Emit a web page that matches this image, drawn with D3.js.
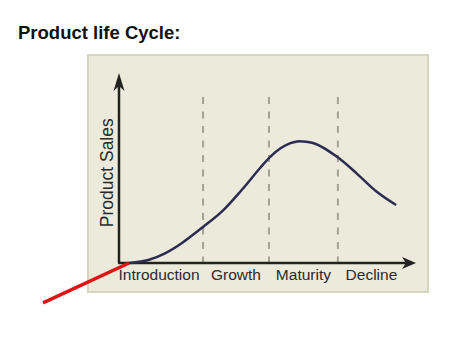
<!DOCTYPE html>
<html>
<head>
<meta charset="utf-8">
<script src="https://cdn.jsdelivr.net/npm/d3@7"></script>
<style>
  body { margin: 0; background: #fff; }
  text { font-family: "Liberation Sans", Arial, sans-serif; }
</style>
</head>
<body>
<div class="container"></div>
<script>
var WIDTH = 474, HEIGHT = 355;

// stages of the cycle and where each one ends (time units)
var stages = ["Introduction", "Growth", "Maturity", "Decline"];
var stageBounds = [0, 28.3, 50.5, 73.7, 96.3];

// sales curve
var timeValues  = [3.7, 9.9, 15.5, 21.1, 28.4, 34.6, 41.3, 47.5, 51, 54.5, 57.5, 60, 63, 66.5, 73.3, 80, 86.8, 93.3];
var salesValues = [0, 1.6, 5.1, 10.4, 19.1, 27, 38.4, 50, 56, 60.5, 63, 64, 63.8, 62.5, 56, 47.2, 37.5, 30.5];

// red pointer drawn over the chart
var pointerX = [-25.6, 3.4];
var pointerY = [-21, 0];

var curve = timeValues.map(function(t, i){ return {t: t, v: salesValues[i]}; });

var svg = d3.select('.container').append('svg')
            .attr('width', WIDTH)
            .attr('height', HEIGHT);

svg.append('text')
   .attr('x', 18).attr('y', 39)
   .style('font-size', '18.5px')
   .style('font-weight', 'bold')
   .attr('fill', '#111')
   .text('Product life Cycle:');

// panel
svg.append('rect')
   .attr('x', 88).attr('y', 55)
   .attr('width', 340).attr('height', 237)
   .attr('fill', '#ebeadb')
   .attr('stroke', '#d6d5c2')
   .attr('stroke-width', 2);

var xScale = d3.scaleLinear().domain([0, 100]).range([119, 416]);
var yScale = d3.scaleLinear().domain([0, 100]).range([263, 73]);

// stage dividers
svg.selectAll('line.divider').data(stageBounds.slice(1, 4))
   .enter().append('line')
     .classed('divider', true)
     .attr('x1', function(d){ return xScale(d); })
     .attr('x2', function(d){ return xScale(d); })
     .attr('y1', yScale(87.4))
     .attr('y2', yScale(0))
     .attr('stroke', '#a3a394')
     .attr('stroke-width', 2)
     .attr('stroke-dasharray', '7,7.5');

// axes with arrow heads
var axisColor = '#222';
svg.append('line')
   .attr('x1', xScale(0)).attr('y1', yScale(0))
   .attr('x2', xScale(0)).attr('y2', yScale(100) + 12)
   .attr('stroke', axisColor).attr('stroke-width', 2.5);
svg.append('line')
   .attr('x1', xScale(0) - 1).attr('y1', yScale(0))
   .attr('x2', xScale(100) - 10).attr('y2', yScale(0))
   .attr('stroke', axisColor).attr('stroke-width', 2.5);

var yt = [xScale(0), yScale(100)];
svg.append('path')
   .attr('d', 'M' + yt[0] + ',' + yt[1] + 'L' + (yt[0] + 5.5) + ',' + (yt[1] + 18) +
              'L' + yt[0] + ',' + (yt[1] + 13) + 'L' + (yt[0] - 5.5) + ',' + (yt[1] + 18) + 'Z')
   .attr('fill', axisColor);
var xt = [xScale(100), yScale(0)];
svg.append('path')
   .attr('d', 'M' + xt[0] + ',' + xt[1] + 'L' + (xt[0] - 14) + ',' + (xt[1] - 6) +
              'L' + (xt[0] - 10) + ',' + xt[1] + 'L' + (xt[0] - 14) + ',' + (xt[1] + 6) + 'Z')
   .attr('fill', axisColor);

// stage labels centred in their stage
svg.selectAll('text.stage').data(stages)
   .enter().append('text')
     .classed('stage', true)
     .attr('x', function(d, i){ return (xScale(stageBounds[i]) + xScale(stageBounds[i + 1])) / 2 - (i == 0 ? 2 : 0); })
     .attr('y', 280)
     .attr('text-anchor', 'middle')
     .style('font-size', '15.5px')
     .attr('fill', '#2a2a2a')
     .text(function(d){ return d; });

svg.append('text')
   .attr('transform', 'translate(113,' + yScale(47.5) + ') rotate(-90)')
   .attr('text-anchor', 'middle')
   .style('font-size', '17.5px')
   .attr('fill', '#2a2a2a')
   .text('Product Sales');

var line = d3.line()
             .x(function(d){ return xScale(d.t); })
             .y(function(d){ return yScale(d.v); })
             .curve(d3.curveCatmullRom.alpha(0.5));

svg.append('path')
   .attr('d', line(curve))
   .attr('fill', 'none')
   .attr('stroke', '#2c2c52')
   .attr('stroke-width', 2.5);

svg.append('line')
   .attr('x1', xScale(pointerX[0])).attr('y1', yScale(pointerY[0]))
   .attr('x2', xScale(pointerX[1])).attr('y2', yScale(pointerY[1]))
   .attr('stroke', '#e01414')
   .attr('stroke-width', 3.5);
</script>
</body>
</html>
